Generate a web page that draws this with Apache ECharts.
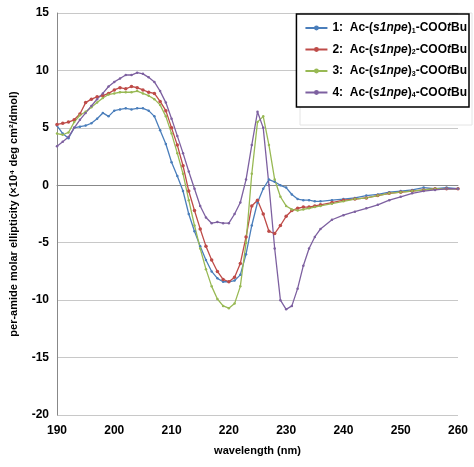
<!DOCTYPE html>
<html><head><meta charset="utf-8">
<script src="https://cdn.jsdelivr.net/npm/echarts@6/dist/echarts.min.js"></script>
<style>html,body{margin:0;padding:0;background:#fff}#c{width:474px;height:467px}</style>
</head><body><div id="c"></div>
<script>
const wavelengths = [190,191,192,193,194,195,196,197,198,199,200,201,202,203,204,205,206,207,208,209,210,211,212,213,214,215,216,217,218,219,220,221,222,223,224,225,226,227,228,229,230,231,232,233,234,235,236,238,240,242,244,246,248,250,252,254,256,258,260];
const s1 = [5.2,4.5,4.1,5.0,5.1,5.2,5.4,5.8,6.3,6.0,6.5,6.6,6.7,6.6,6.7,6.7,6.5,6.0,4.8,3.6,2.0,0.8,-0.5,-2.5,-4.0,-5.3,-6.5,-7.5,-8.1,-8.4,-8.4,-8.3,-7.8,-6.0,-3.5,-1.5,-0.3,0.5,0.3,0.0,-0.2,-0.8,-1.2,-1.3,-1.3,-1.4,-1.4,-1.3,-1.2,-1.1,-0.9,-0.8,-0.6,-0.5,-0.4,-0.2,-0.3,-0.2,-0.3];
const s2 = [5.3,5.4,5.5,5.7,6.2,7.2,7.5,7.7,7.8,8.0,8.3,8.5,8.4,8.6,8.5,8.3,8.1,8.0,7.3,6.5,5.0,3.5,1.7,-0.5,-2.2,-3.8,-5.3,-6.5,-7.5,-8.2,-8.4,-8.0,-6.8,-4.5,-1.8,-1.3,-2.5,-4.0,-4.2,-3.5,-2.7,-2.2,-2.0,-1.9,-1.9,-1.8,-1.7,-1.5,-1.3,-1.2,-1.1,-0.9,-0.7,-0.6,-0.5,-0.4,-0.3,-0.3,-0.3];
const s3 = [4.5,4.4,4.6,5.5,6.1,6.4,6.8,7.2,7.6,7.9,8.0,8.1,8.1,8.1,8.2,8.0,7.8,7.5,7.0,6.0,4.5,2.8,1.0,-1.3,-3.5,-5.5,-7.3,-8.8,-9.9,-10.5,-10.7,-10.3,-8.8,-5.0,1.0,5.5,6.0,3.5,0.5,-1.0,-1.8,-2.1,-2.2,-2.1,-2.0,-1.9,-1.8,-1.6,-1.4,-1.2,-1.1,-0.9,-0.7,-0.6,-0.5,-0.4,-0.3,-0.3,-0.3];
const s4 = [3.4,3.8,4.2,5.0,5.7,6.3,6.9,7.5,8.0,8.6,9.0,9.3,9.6,9.6,9.8,9.7,9.4,9.0,8.2,7.2,5.8,4.3,2.8,1.2,-0.3,-1.8,-2.8,-3.3,-3.2,-3.3,-3.3,-2.5,-1.5,0.5,3.5,6.4,5.0,0.0,-5.5,-10.0,-10.8,-10.5,-9.0,-7.0,-5.5,-4.5,-3.8,-3.0,-2.6,-2.3,-2.0,-1.7,-1.3,-1.0,-0.7,-0.5,-0.4,-0.3,-0.3];
const seriesNames = ['1','2','3','4'];
const subs = ['1','2','3','4'];
const colors = ['#4a7ebb','#be4b48','#98b954','#7d60a0'];
const xTicks = [190,200,210,220,230,240,250,260];
const yTicks = [-20,-15,-10,-5,0,5,10,15];
const all = [s1,s2,s3,s4];
const chart = echarts.init(document.getElementById('c'));
chart.setOption({
  animation:false,
  graphic:[{type:'rect',shape:{x:300,y:13,width:172,height:112},style:{fill:'none',stroke:'#e4e4e4',lineWidth:1},z:-1}],
  grid:{left:57,right:16,top:13,bottom:52},
  legend:{orient:'vertical',right:5,top:14,itemWidth:22,itemHeight:6,itemGap:9,
    backgroundColor:'#fff',borderColor:'#000',borderWidth:1.5,padding:[8,2,8,8],
    data:seriesNames,
    formatter:n=>'{n|'+n+':  Ac-(}{i|s1npe}{n|)}{s|'+subs[seriesNames.indexOf(n)]+'}{n|-COO}{i|t}{n|Bu}',
    textStyle:{rich:{
      n:{fontFamily:'Liberation Sans',fontWeight:'bold',fontSize:12,color:'#000'},
      i:{fontFamily:'Liberation Sans',fontWeight:'bold',fontStyle:'italic',fontSize:12,color:'#000'},
      s:{fontFamily:'Liberation Sans',fontWeight:'bold',fontSize:7,color:'#000',verticalAlign:'bottom',padding:[6,0,0,0]}
    }}},
  xAxis:{type:'value',min:190,max:260,interval:10,
    name:'wavelength (nm)',nameLocation:'middle',nameGap:30,
    nameTextStyle:{fontFamily:'Liberation Sans',fontWeight:'bold',fontSize:11,color:'#000'},
    axisLine:{lineStyle:{color:'#888'}},axisTick:{show:false},splitLine:{show:false},
    axisLabel:{fontFamily:'Liberation Sans',fontWeight:'bold',fontSize:12,color:'#000',margin:10,
      customValues:xTicks}},
  yAxis:{type:'value',min:-20,max:15,interval:5,
    name:'per-amide molar ellipticity (×10⁴ deg cm²/dmol)',nameLocation:'middle',nameGap:38,
    nameTextStyle:{fontFamily:'Liberation Sans',fontWeight:'bold',fontSize:11,color:'#000'},
    axisLine:{show:true,lineStyle:{color:'#888'}},axisTick:{show:false},
    splitLine:{lineStyle:{color:'#c8c8c8'}},
    axisLabel:{fontFamily:'Liberation Sans',fontWeight:'bold',fontSize:12,color:'#000',customValues:yTicks}},
  series:all.map((s,k)=>({name:seriesNames[k],type:'line',
    data:wavelengths.map((w,i)=>[w,s[i]]),
    symbol:'circle',symbolSize:k===1?3.5:2.5,showSymbol:true,
    lineStyle:{color:colors[k],width:1.3},itemStyle:{color:colors[k]}}))
});
</script></body></html>
